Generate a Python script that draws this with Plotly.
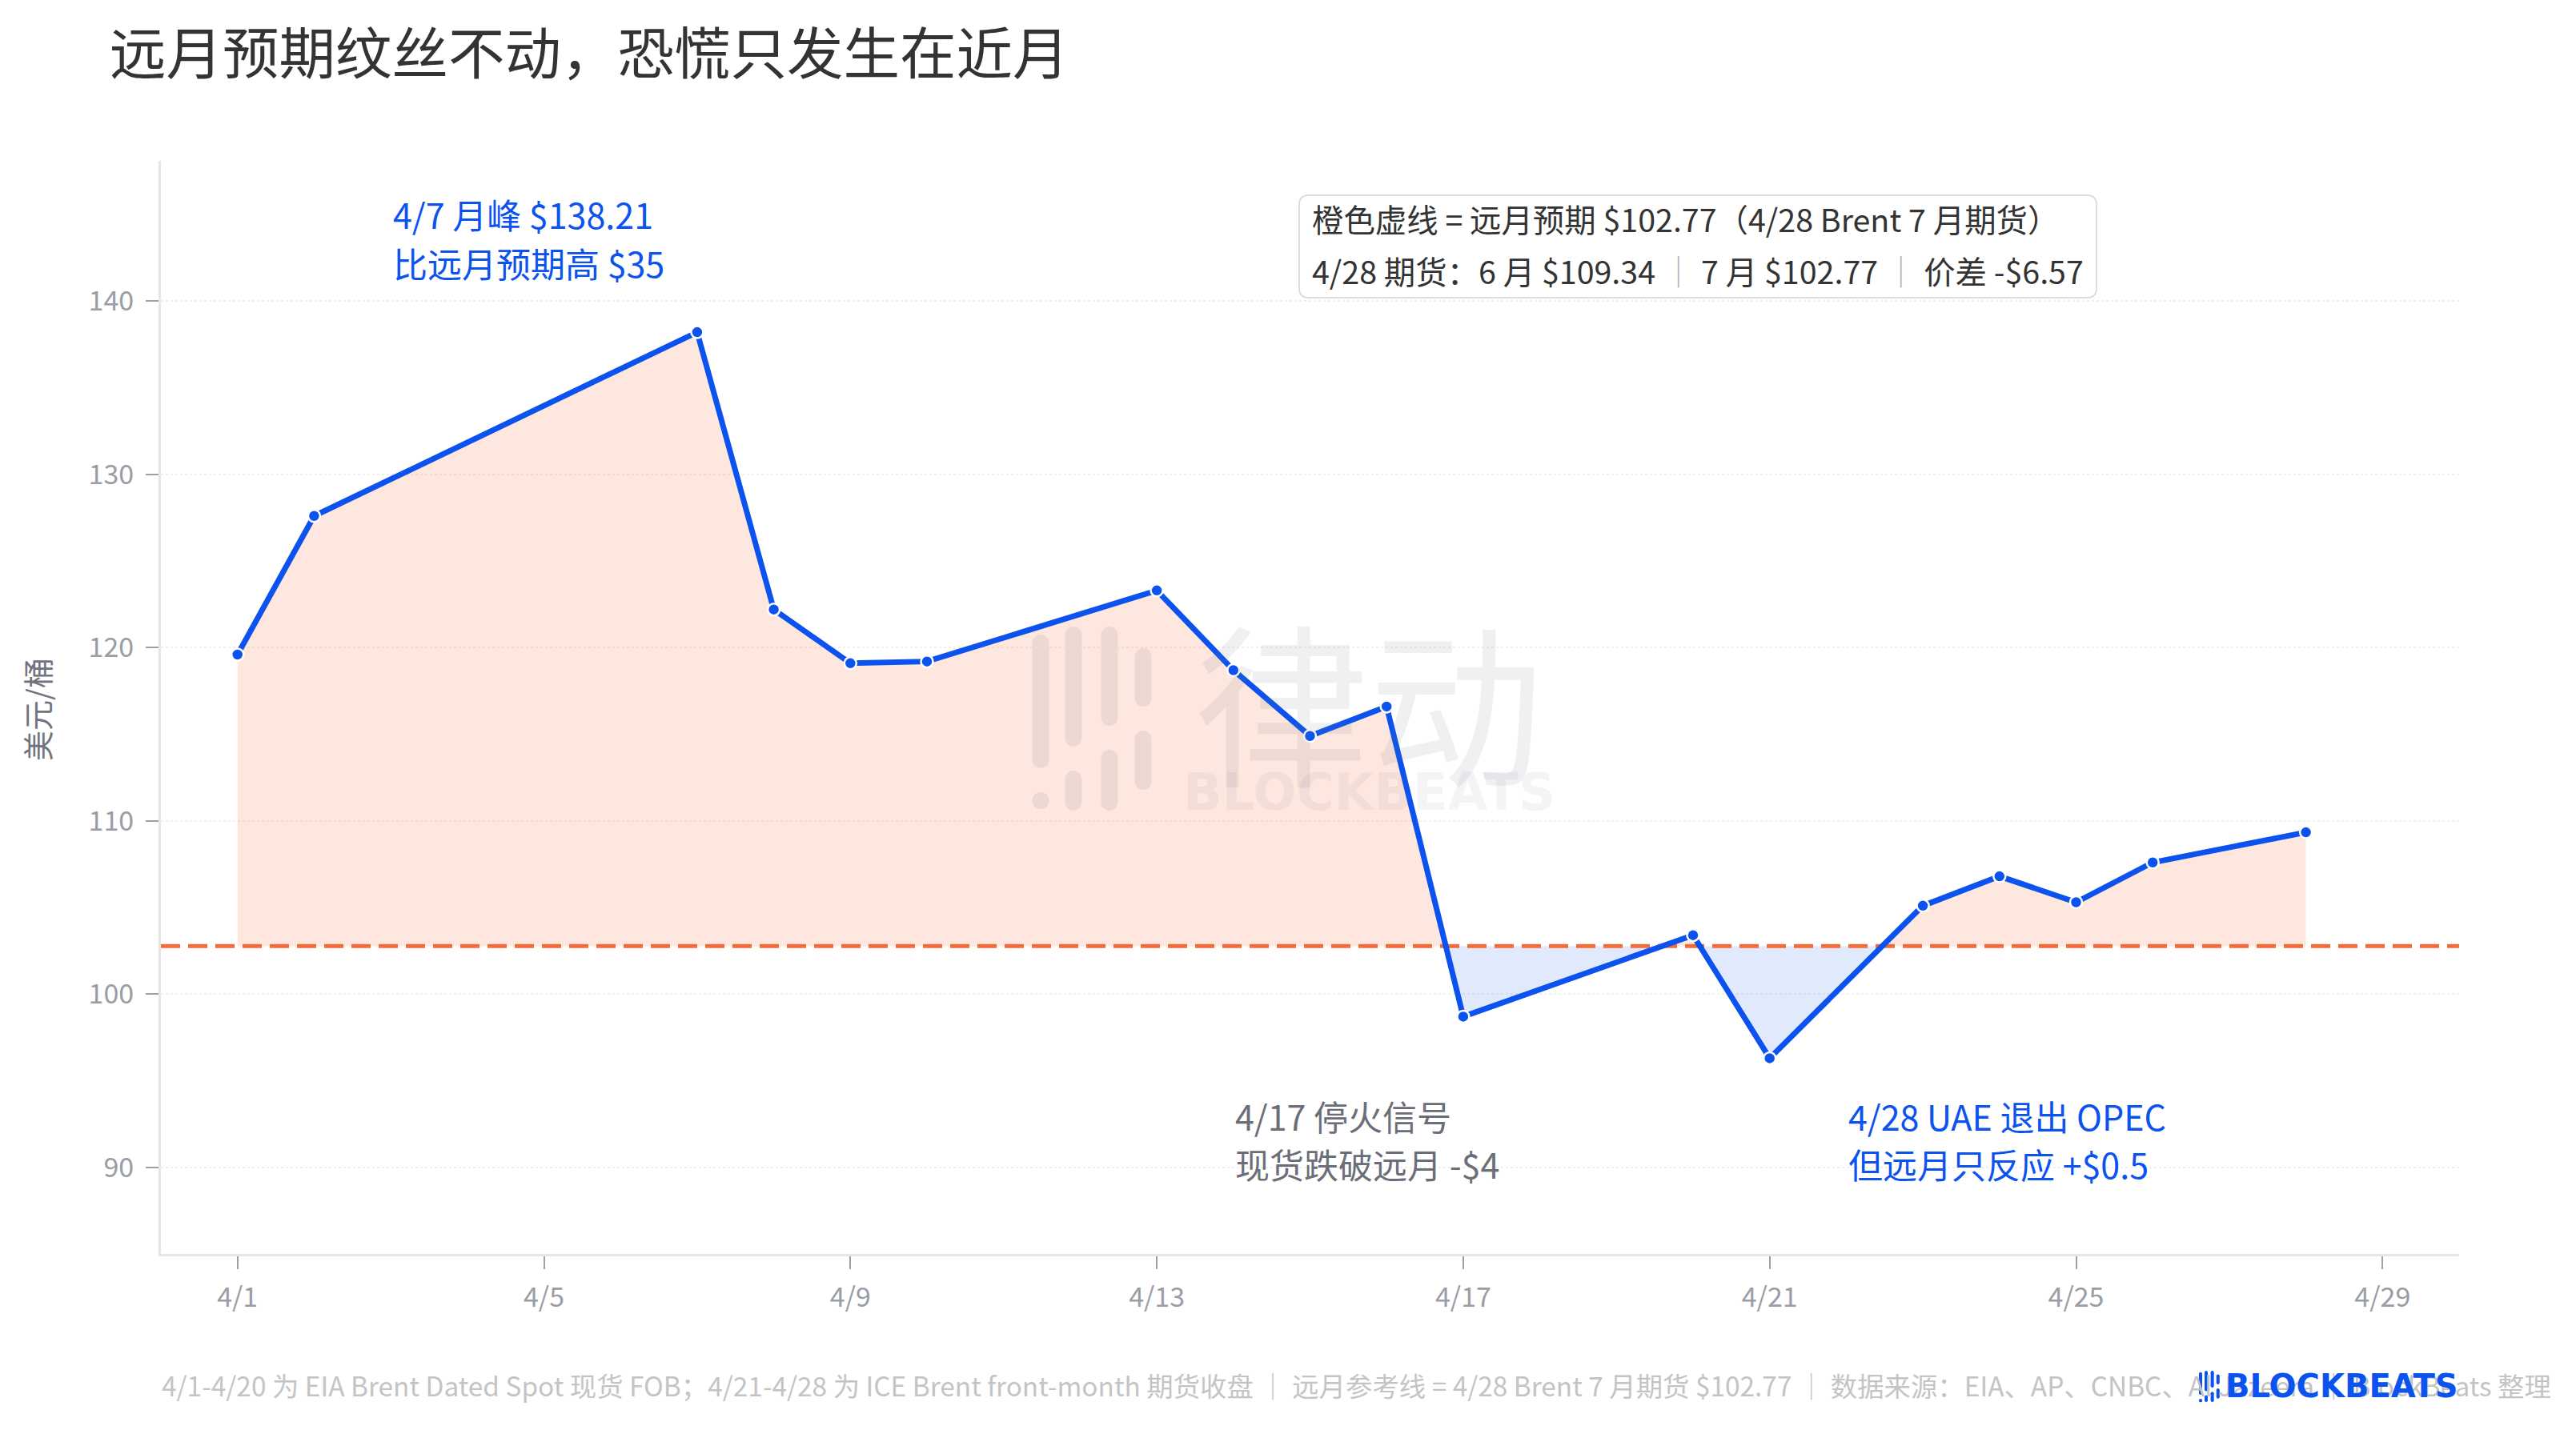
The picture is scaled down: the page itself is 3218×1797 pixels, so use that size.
import numpy as np
import plotly.graph_objects as go

# ---------------- data ----------------
DATES = ["2026-04-01", "2026-04-02", "2026-04-07", "2026-04-08", "2026-04-09",
         "2026-04-10", "2026-04-13", "2026-04-14", "2026-04-15", "2026-04-16",
         "2026-04-17", "2026-04-20", "2026-04-21", "2026-04-23", "2026-04-24",
         "2026-04-25", "2026-04-26", "2026-04-28"]
PRICES = [119.6, 127.6, 138.21, 122.2, 119.1, 119.2, 123.3, 118.7, 114.9, 116.6,
          98.7, 103.4, 96.3, 105.1, 106.8, 105.3, 107.6, 109.34]
REF = 102.77
X_RANGE = ["2026-03-31", "2026-04-30"]
Y_RANGE = [85, 148.1]
Y_TICKS = [90, 100, 110, 120, 130, 140]
X_TICK0 = "2026-04-01"
X_DTICK_DAYS = 4

TITLE = "远月预期纹丝不动，恐慌只发生在近月"
Y_TITLE = "美元/桶"
ANN_PEAK = ["4/7 月峰 $138.21", "比远月预期高 $35"]
ANN_CEASE = ["4/17 停火信号", "现货跌破远月 -$4"]
ANN_UAE = ["4/28 UAE 退出 OPEC", "但远月只反应 +$0.5"]
SEP = "<span style='color:#b5b5b5'>｜</span>"
BOX_LINES = ["橙色虚线 = 远月预期 $102.77（4/28 Brent 7 月期货）",
             "4/28 期货：6 月 $109.34 " + SEP + " 7 月 $102.77 " + SEP + " 价差 -$6.57"]
FOOTER = ("4/1-4/20 为 EIA Brent Dated Spot 现货 FOB；4/21-4/28 为 ICE Brent front-month 期货收盘 ｜ "
          "远月参考线 = 4/28 Brent 7 月期货 $102.77 ｜ 数据来源：EIA、AP、CNBC、Al Jazeera ｜ BlockBeats 整理")

# ---------------- style ----------------
FONT = "Noto Sans CJK SC"
BLUE = "#0B52EE"
ORANGE = "#F26B38"
W, H = 3218, 1797
PL, PR, PT, PB = 201, 3072, 201, 1567


def px(x):
    return (x - PL) / (PR - PL)


def py(y):
    return (PB - y) / (PB - PT)


# ---------- split fill above / below reference ----------
t = np.array(DATES, dtype="datetime64[ms]").astype("int64")
xs, up, lo = [], [], []
for i, p in enumerate(PRICES):
    if i > 0:
        a, b = PRICES[i - 1] - REF, p - REF
        if a * b < 0:
            tc = t[i - 1] + (t[i] - t[i - 1]) * a / (a - b)
            xs.append(int(tc)); up.append(REF); lo.append(REF)
    xs.append(int(t[i])); up.append(max(p, REF)); lo.append(min(p, REF))
xfill = np.array(xs, dtype="int64").astype("datetime64[ms]")
base = [REF] * len(xs)

fig = go.Figure()
fig.add_trace(go.Scatter(x=xfill, y=base, mode="lines", line=dict(width=0),
                         hoverinfo="skip", showlegend=False))
fig.add_trace(go.Scatter(x=xfill, y=up, mode="lines", line=dict(width=0),
                         fill="tonexty", fillcolor="rgba(242,107,56,0.16)",
                         hoverinfo="skip", showlegend=False))
fig.add_trace(go.Scatter(x=xfill, y=base, mode="lines", line=dict(width=0),
                         hoverinfo="skip", showlegend=False))
fig.add_trace(go.Scatter(x=xfill, y=lo, mode="lines", line=dict(width=0),
                         fill="tonexty", fillcolor="rgba(11,82,238,0.12)",
                         hoverinfo="skip", showlegend=False))
fig.add_trace(go.Scatter(x=X_RANGE, y=[REF, REF], mode="lines",
                         line=dict(color=ORANGE, width=5, dash="24px,10px"),
                         hoverinfo="skip", showlegend=False))
fig.add_trace(go.Scatter(x=DATES, y=PRICES, mode="lines+markers",
                         line=dict(color=BLUE, width=7),
                         marker=dict(size=15, color=BLUE, line=dict(color="white", width=2.5)),
                         showlegend=False))

# ---------------- watermark / logo bars ----------------
# (centre x, top y, bottom y) relative pixel layout of the logo icon
BARS = [(0, 10, 177), (0, 207, 227),
        (41, 0, 150), (41, 180, 230),
        (86, 0, 124), (86, 154, 230),
        (128, 27, 100), (128, 130, 204)]
shapes = []


def add_bars(ox, oy, scale, w, color, layer):
    for cx, y0, y1 in BARS:
        x = px(ox + cx * scale)
        ya, yb = oy + y0 * scale + w / 2, oy + y1 * scale - w / 2
        shapes.append(dict(type="line", xref="paper", yref="paper", x0=x, x1=x,
                           y0=py(ya), y1=py(max(yb, ya + 0.01)),
                           line=dict(color=color, width=w), layer=layer))
        for yy in (ya, max(yb, ya)):
            shapes.append(dict(type="circle", xref="paper", yref="paper",
                               xsizemode="pixel", ysizemode="pixel",
                               xanchor=x, yanchor=py(yy),
                               x0=-w / 2, x1=w / 2, y0=-w / 2, y1=w / 2,
                               fillcolor=color, line=dict(width=0), layer=layer))


add_bars(1300, 783, 1.0, 21, "#ECEDF1", "below")
add_bars(2749, 1713, 0.17, 4, BLUE, "above")

# rounded box
bx0, bx1, by0, by1, r = 1623, 2619, 244, 372, 12
rx, ry = r / (PR - PL), r / (PB - PT)
X0, X1, Y0, Y1 = px(bx0), px(bx1), py(by1), py(by0)
path = (f"M{X0+rx},{Y0} L{X1-rx},{Y0} Q{X1},{Y0} {X1},{Y0+ry} L{X1},{Y1-ry} "
        f"Q{X1},{Y1} {X1-rx},{Y1} L{X0+rx},{Y1} Q{X0},{Y1} {X0},{Y1-ry} "
        f"L{X0},{Y0+ry} Q{X0},{Y0} {X0+rx},{Y0} Z")
shapes.append(dict(type="path", xref="paper", yref="paper", path=path,
                   fillcolor="white", line=dict(color="#DDDDDD", width=2), layer="above"))

# ---------------- annotations ----------------
ann = []


def text(x, y, s, size, color, xanchor="left", family=FONT, **kw):
    ann.append(dict(xref="paper", yref="paper", x=px(x), y=py(y), text=s,
                    showarrow=False, xanchor=xanchor, yanchor="middle",
                    font=dict(family=family, size=size, color=color), **kw))


text(135, 62, TITLE, 70.5, "#333333")
text(489, 267, ANN_PEAK[0], 43, BLUE)
text(489, 328, ANN_PEAK[1], 43, BLUE)
text(1637, 272, BOX_LINES[0], 39.4, "#333333")
text(1637, 337, BOX_LINES[1], 39.4, "#333333")
text(1541, 1394, ANN_CEASE[0], 43, "#6B6E78")
text(1541, 1454, ANN_CEASE[1], 43, "#6B6E78")
text(2307, 1394, ANN_UAE[0], 43, BLUE)
text(2307, 1454, ANN_UAE[1], 43, BLUE)
text(45, 887, Y_TITLE, 38, "#70737D", xanchor="center", textangle=-90)
text(1710, 872, "律动", 218, "rgba(110,120,140,0.11)", xanchor="center")
text(1710, 990, "<b>BLOCKBEATS</b>", 64, "rgba(110,120,140,0.08)", xanchor="center",
     family="DejaVu Sans")
text(200, 1730, FOOTER, 33.4, "#C4C4C4")
text(3073, 1732, "<b>BLOCKBEATS</b>", 40, BLUE, xanchor="right", family="DejaVu Sans")

axis_common = dict(showline=True, linecolor="#E6E6E6", linewidth=3, ticks="outside",
                   tickcolor="#A0A0A0", ticklen=16, tickwidth=1.5, zeroline=False,
                   tickfont=dict(family=FONT, size=34, color="#9A9DA6"))

fig.update_layout(
    width=W, height=H, autosize=False,
    margin=dict(l=PL, r=W - PR, t=PT, b=H - PB, pad=0),
    paper_bgcolor="white", plot_bgcolor="white",
    font=dict(family=FONT),
    xaxis=dict(type="date", range=X_RANGE, tick0=X_TICK0, dtick=X_DTICK_DAYS * 86400000,
               tickformat="%-m/%-d", showgrid=False, ticklabelstandoff=6, **axis_common),
    yaxis=dict(range=Y_RANGE, tickvals=Y_TICKS, showgrid=True, gridcolor="#EFEFEF",
               gridwidth=1.5, griddash="dot", ticklabelstandoff=8, **axis_common),
    shapes=shapes, annotations=ann, showlegend=False,
)

fig.write_html("out.html", post_script="document.body.style.margin='0';",
               config={"displayModeBar": False})
